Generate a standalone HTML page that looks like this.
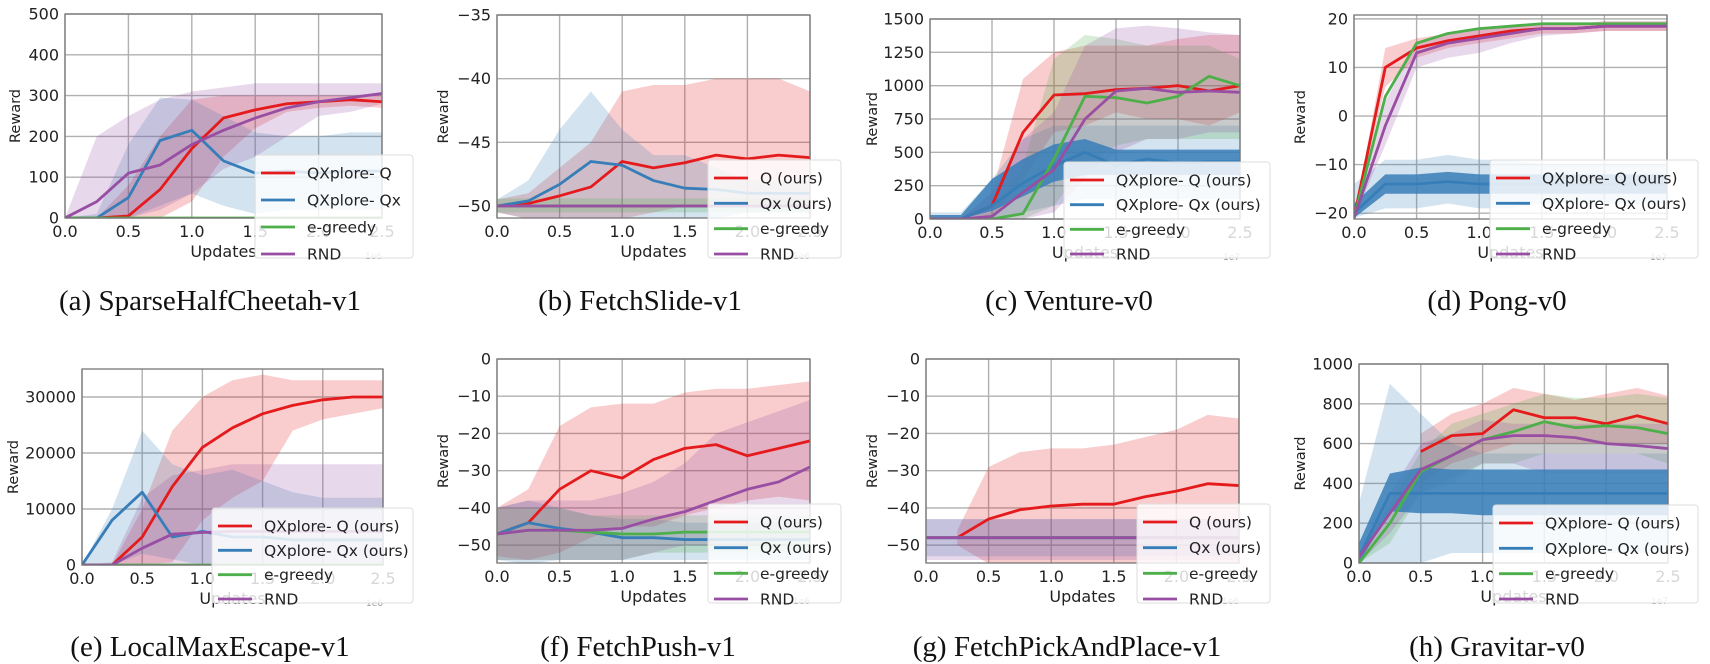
<!DOCTYPE html>
<html><head><meta charset="utf-8">
<style>
html,body{margin:0;padding:0;background:#fff;}
svg{display:block;font-family:"DejaVu Sans","Liberation Sans",sans-serif;}
.cap{font-family:"Liberation Serif",serif;font-size:29px;fill:#111;}
</style></head>
<body>
<svg id="fig" width="1710" height="664" viewBox="0 0 1710 664" xmlns="http://www.w3.org/2000/svg"></svg>
<script>
// ---------- data (x = updates, in units of 1e6 or 1e7) ----------
const xs = [0,0.25,0.5,0.75,1.0,1.25,1.5,1.75,2.0,2.25,2.5];
const seriesNames = ["Q","Qx","e-greedy","RND"];
// (a) SparseHalfCheetah
const aQ=[0,0,5,70,170,245,265,280,285,290,285];
const aQLo=[0,0,0,0,40,150,220,260,270,275,270];
const aQHi=[0,0,80,200,290,300,300,300,300,300,300];
const aQx=[0,0,50,190,215,140,110,115,110,115,115];
const aQxLo=[0,0,0,30,60,30,10,20,20,20,20];
const aQxHi=[0,10,180,295,290,250,210,200,200,210,210];
const aE=[0,0,0,0,0,0,0,0,0,0,0];
const aR=[0,40,110,130,180,215,245,270,285,295,305];
const aRLo=[0,0,0,20,60,120,150,200,250,260,280];
const aRHi=[0,200,250,290,310,320,330,330,330,330,330];
// (b) FetchSlide
const bQ=[-50,-49.8,-49.2,-48.5,-46.5,-47,-46.6,-46,-46.3,-46,-46.2];
const bQLo=[-50.5,-51,-51,-51,-51,-50.5,-50,-50,-50,-50,-50];
const bQHi=[-49.5,-49,-47,-45,-41,-40.5,-40.5,-40,-40,-40,-41];
const bQx=[-50,-49.6,-48.3,-46.5,-46.8,-48,-48.6,-48.7,-49,-49,-49];
const bQxLo=[-50.5,-51,-51,-51,-51,-51,-51,-51,-50.5,-50.5,-50.5];
const bQxHi=[-49.5,-48,-44,-41,-44,-46,-46,-47,-48,-48,-48];
const bE=[-50,-50,-50,-50,-50,-50,-50,-50,-50,-50,-50];
const bELo=[-50.5,-50.5,-50.5,-50.5,-50.5,-50.5,-50.5,-50.5,-50.5,-50.5,-50.5];
const bEHi=[-49.4,-49.4,-49.4,-49.4,-49.4,-49.4,-49.4,-49.4,-49.4,-49.4,-49.4];
const bR=[-50,-50,-50,-50,-50,-50,-50,-50,-50,-50,-50];
// (c) Venture
const cQ=[0,0,100,650,930,940,970,980,1000,960,1000];
const cQLo=[0,0,0,300,650,700,800,750,750,700,800];
const cQHi=[0,0,200,1050,1250,1300,1300,1300,1350,1380,1380];
const cQx=[0,0,100,270,400,500,400,450,420,430,430];
const cQxLo=[0,0,0,50,100,150,150,150,150,150,150];
const cQxHi=[50,50,300,600,700,700,700,700,700,700,700];
const cQxNoiseLo=[0,0,60,170,280,330,330,330,330,330,330];
const cQxNoiseHi=[30,30,300,450,560,600,520,520,520,520,520];
const cE=[0,0,0,40,450,920,910,870,920,1070,1000];
const cELo=[0,0,0,0,100,400,550,600,600,600,600];
const cEHi=[0,0,50,400,1200,1380,1350,1300,1300,1300,1200];
const cR=[0,0,20,200,370,750,960,980,950,960,950];
const cRLo=[0,0,0,0,50,300,500,600,600,650,650];
const cRHi=[0,0,200,600,800,1300,1430,1450,1430,1400,1380];
// (d) Pong
const dQ=[-21,10,14,15.5,16.5,17.5,18,18,18.5,18.5,18.5];
const dQLo=[-21,6,12,14,15,16,17,17,17.5,17.5,17.5];
const dQHi=[-21,14,16,17,18,18.5,19,19,19.5,19.5,19.5];
const dQx=[-20,-14,-14,-13.5,-14,-14,-14,-14,-14,-14,-14];
const dQxLo=[-21,-19,-19,-18,-19,-19,-18,-18,-18,-18,-18];
const dQxHi=[-14,-9,-9,-8,-9,-9,-10,-10,-10,-10,-10];
const dQxNoiseLo=[-21,-16,-16,-16,-16,-16,-16,-16,-16,-16,-16];
const dQxNoiseHi=[-18,-12,-12,-11.5,-12,-12,-12,-12,-12,-12,-12];
const dE=[-21,4,15,17,18,18.5,19,19,19,19,19];
const dR=[-21,-2,13,15,16,17,18,18,18.5,18.5,18.5];
const dRLo=[-21,-6,10,12,13,15,16.5,17,17.5,17.5,17.5];
const dRHi=[-21,3,15,17,18,18.5,19,19,19.5,19.5,19.5];
// (e) LocalMaxEscape
const eQ=[0,0,5000,14000,21000,24500,27000,28500,29500,30000,30000];
const eQLo=[0,0,0,500,8000,12000,15000,24000,26000,27000,28000];
const eQHi=[0,0,10000,24000,30000,33000,34000,33000,33000,33000,33000];
const eQx=[0,8000,13000,5000,6000,5000,5000,4500,4500,4500,4500];
const eQxLo=[0,0,2000,1000,0,0,0,0,0,0,0];
const eQxHi=[0,10000,24000,18000,16000,17000,15000,13000,12000,12000,12000];
const eE=[0,0,0,0,0,0,0,0,0,0,0];
const eR=[0,0,3000,5500,5800,6000,6000,6000,6000,6000,6000];
const eRLo=[0,0,0,0,0,0,0,0,0,0,0];
const eRHi=[0,500,12000,16000,17000,18000,18000,18000,18000,18000,18000];
// (f) FetchPush
const fQ=[-47,-44,-35,-30,-32,-27,-24,-23,-26,-24,-22];
const fQLo=[-53,-54,-52,-48,-45,-45,-42,-40,-38,-37,-38];
const fQHi=[-40,-35,-18,-13,-12,-12,-9,-8,-8,-7,-6];
const fQx=[-47,-44,-45.5,-46.5,-48,-48,-48.5,-48.5,-48.5,-48.5,-48.5];
const fQxLo=[-54,-55,-54,-54,-54,-54,-54,-54,-54,-54,-54];
const fQxHi=[-40,-38,-40,-42,-43,-43,-44,-44,-44,-44,-44];
const fE=[-47,-46,-46,-46.5,-47,-47,-46.5,-46.5,-46.5,-46.5,-46.5];
const fELo=[-54,-54,-54,-54,-54,-52,-52,-52,-52,-52,-52];
const fEHi=[-40,-40,-40,-42,-42,-42,-42,-42,-42,-42,-42];
const fR=[-47,-46,-46,-46,-45.5,-43,-41,-38,-35,-33,-29];
const fRLo=[-54,-54,-54,-54,-54,-52,-50,-50,-50,-49,-48];
const fRHi=[-40,-38,-38,-38,-36,-33,-28,-20,-17,-14,-11];
// (g) FetchPickAndPlace
const gQ=[null,-48,-43,-40.5,-39.5,-39,-39,-37,-35.5,-33.5,-34];
const gQLo=[null,-50,-55,-55,-55,-55,-55,-55,-55,-55,-55];
const gQHi=[null,-46,-29,-25,-24,-24,-23,-21,-19,-15,-16];
const gQx=[-48,-48,-48,-48,-48,-48,-48,-48,-48,-48,-48];
const gQxLo=[-53,-53,-53,-53,-53,-53,-53,-53,-53,-53,-53];
const gQxHi=[-43,-43,-43,-43,-43,-43,-43,-43,-43,-43,-43];
const gE=[-48,-48,-48,-48,-48,-48,-48,-48,-48,-48,-48];
const gR=[-48,-48,-48,-48,-48,-48,-48,-48,-48,-48,-48];
const gRLo=[-54,-54,-54,-54,-54,-54,-54,-54,-54,-54,-54];
const gRHi=[-43,-43,-43,-43,-43,-43,-43,-43,-43,-43,-43];
// (h) Gravitar
const hQ=[null,null,560,640,650,770,730,730,700,740,700];
const hQLo=[null,null,400,500,550,600,600,600,600,600,600];
const hQHi=[null,null,650,750,800,880,850,820,850,880,840];
const hQx=[30,350,350,350,350,350,350,350,350,350,350];
const hQxLo=[0,0,0,50,50,50,50,50,50,50,50];
const hQxHi=[300,900,750,600,550,550,550,550,550,550,550];
const hQxNoiseLo=[0,260,250,250,240,240,240,240,240,240,240];
const hQxNoiseHi=[100,450,480,470,470,470,470,470,470,470,470];
const hE=[0,200,460,540,620,660,710,680,690,680,650];
const hELo=[0,100,350,400,500,500,550,550,550,550,500];
const hEHi=[50,300,560,700,750,800,850,830,830,850,830];
const hR=[30,250,470,540,620,640,640,630,600,590,575];
const hRLo=[0,150,350,430,500,500,450,450,450,450,450];
const hRHi=[50,350,600,650,720,700,700,700,700,700,700];
const xTickLabels=["0.0","0.5","1.0","1.5","2.0","2.5"];
const xTickVals=[0,0.5,1,1.5,2,2.5];

// ---------- layout / rendering ----------
const COLORS=["#e41a1c","#377eb8","#4daf4a","#984ea3"];
const NS="http://www.w3.org/2000/svg";
const svg=document.getElementById('fig');
function mk(tag,attrs,parent){const e=document.createElementNS(NS,tag);for(const k in attrs)e.setAttribute(k,attrs[k]);(parent||svg).appendChild(e);return e;}

const panels=[
 {id:"a",L:65,R:382,T:14,B:218,ymin:0,ymax:500,yt:[0,100,200,300,400,500],rw:50,exp:"1e6",
  lines:[aQ,aQx,aE,aR],bands:[[aQLo,aQHi],[aQxLo,aQxHi],null,[aRLo,aRHi]],
  leg:[255,155,413,258],labels:["QXplore- Q","QXplore- Qx","e-greedy","RND"],cap:"(a)  SparseHalfCheetah-v1",cx:210,cy:310},
 {id:"b",L:497,R:810,T:15,B:218,ymin:-50.94,ymax:-35,yt:[-50,-45,-40,-35],rw:54,exp:"1e6",
  lines:[bQ,bQx,bE,bR],bands:[[bQLo,bQHi],[bQxLo,bQxHi],[bELo,bEHi],null],
  leg:[708,160,841,258],labels:["Q (ours)","Qx (ours)","e-greedy","RND"],cap:"(b)  FetchSlide-v1",cx:640,cy:310},
 {id:"c",L:930,R:1240,T:19,B:219,ymin:0,ymax:1500,yt:[0,250,500,750,1000,1250,1500],rw:58,exp:"1e7",
  lines:[cQ,cQx,cE,cR],bands:[[cQLo,cQHi],[cQxLo,cQxHi],[cELo,cEHi],[cRLo,cRHi]],noise:[cQxNoiseLo,cQxNoiseHi],
  leg:[1064,162,1270,258],labels:["QXplore- Q (ours)","QXplore- Qx (ours)","e-greedy","RND"],cap:"(c)  Venture-v0",cx:1069,cy:310},
 {id:"d",L:1354,R:1667,T:15,B:219,ymin:-21.2,ymax:20.8,yt:[-20,-10,0,10,20],rw:54,exp:"1e7",
  lines:[dQ,dQx,dE,dR],bands:[[dQLo,dQHi],[dQxLo,dQxHi],null,[dRLo,dRHi]],noise:[dQxNoiseLo,dQxNoiseHi],
  leg:[1490,160,1698,258],labels:["QXplore- Q (ours)","QXplore- Qx (ours)","e-greedy","RND"],cap:"(d)  Pong-v0",cx:1497,cy:310},
 {id:"e",L:82,R:383,T:369,B:565,ymin:0,ymax:35000,yt:[0,10000,20000,30000],rw:69,exp:"1e6",
  lines:[eQ,eQx,eE,eR],bands:[[eQLo,eQHi],[eQxLo,eQxHi],null,[eRLo,eRHi]],
  leg:[212,508,413,603],labels:["QXplore- Q (ours)","QXplore- Qx (ours)","e-greedy","RND"],cap:"(e)  LocalMaxEscape-v1",cx:210,cy:656},
 {id:"f",L:497,R:810,T:359,B:563,ymin:-54.8,ymax:0,yt:[-50,-40,-30,-20,-10,0],rw:54,exp:"1e6",
  lines:[fQ,fQx,fE,fR],bands:[[fQLo,fQHi],[fQxLo,fQxHi],[fELo,fEHi],[fRLo,fRHi]],
  leg:[708,504,841,603],labels:["Q (ours)","Qx (ours)","e-greedy","RND"],cap:"(f)  FetchPush-v1",cx:638,cy:656},
 {id:"g",L:926,R:1239,T:359,B:563,ymin:-54.8,ymax:0,yt:[-50,-40,-30,-20,-10,0],rw:54,exp:"1e6",
  lines:[gQ,gQx,gE,gR],bands:[[gQLo,gQHi],[gQxLo,gQxHi],null,[gRLo,gRHi]],
  leg:[1137,504,1270,603],labels:["Q (ours)","Qx (ours)","e-greedy","RND"],cap:"(g)  FetchPickAndPlace-v1",cx:1067,cy:656},
 {id:"h",L:1359,R:1668,T:364,B:563,ymin:0,ymax:1000,yt:[0,200,400,600,800,1000],rw:59,exp:"1e7",
  lines:[hQ,hQx,hE,hR],bands:[[hQLo,hQHi],[hQxLo,hQxHi],[hELo,hEHi],[hRLo,hRHi]],noise:[hQxNoiseLo,hQxNoiseHi],
  leg:[1493,505,1698,603],labels:["QXplore- Q (ours)","QXplore- Qx (ours)","e-greedy","RND"],cap:"(h)  Gravitar-v0",cx:1497,cy:656}
];

function fmt(v){return v<0?"\u2212"+Math.abs(v):String(v);}

panels.forEach(p=>{
  const g=mk('g',{});
  
  
  const X=v=>p.L+(v-0)/(2.5-0)*(p.R-p.L);
  const Y=v=>p.B-(v-p.ymin)/(p.ymax-p.ymin)*(p.B-p.T);
  const clipId='clip'+p.id;
  const cp=mk('clipPath',{id:clipId},g);
  mk('rect',{x:p.L,y:p.T,width:p.R-p.L,height:p.B-p.T},cp);
  xTickVals.forEach(v=>{const l=mk('line',{x1:X(v),x2:X(v),y1:p.T,y2:p.B,stroke:'#b0b0b0','stroke-width':1.4},g);
    });
  p.yt.forEach(v=>{const l=mk('line',{x1:p.L,x2:p.R,y1:Y(v),y2:Y(v),stroke:'#b0b0b0','stroke-width':1.4},g);
    });
  const plot=mk('g',{'clip-path':'url(#'+clipId+')'},g);
  p.bands.forEach((b,si)=>{
    if(!b)return;
    const idx=xs.map((_,i)=>i).filter(i=>b[0][i]!=null&&b[1][i]!=null);
    const pts=idx.map(i=>X(xs[i])+','+Y(b[1][i])).concat(idx.slice().reverse().map(i=>X(xs[i])+','+Y(b[0][i])));
    const pg=mk('polygon',{points:pts.join(' '),fill:COLORS[si],'fill-opacity':0.22},plot);
    
    
  });
  if(p.noise){
    const b=p.noise;
    const pts=xs.map((x,i)=>X(x)+','+Y(b[1][i])).concat(xs.map((x,i)=>X(x)+','+Y(b[0][i])).reverse());
    const pg=mk('polygon',{points:pts.join(' '),fill:COLORS[1],'fill-opacity':0.85},plot);
    
    
  }
  p.lines.forEach((arr,si)=>{
    const idx=xs.map((_,i)=>i).filter(i=>arr[i]!=null);
    const pl=mk('polyline',{points:idx.map(i=>X(xs[i])+','+Y(arr[i])).join(' '),fill:'none',stroke:COLORS[si],'stroke-width':2.8,'stroke-linejoin':'round'},plot);
    
    
  });
  const fr=mk('rect',{x:p.L,y:p.T,width:p.R-p.L,height:p.B-p.T,fill:'none',stroke:'#777','stroke-width':1.3},g);
  
  p.yt.forEach(v=>{const t=mk('text',{x:p.L-6,y:Y(v)+5.5,'text-anchor':'end','font-size':16,fill:'#222'},g);
    t.textContent=fmt(v);});
  xTickVals.forEach((v,i)=>{const t=mk('text',{x:X(v),y:p.B+19,'text-anchor':'middle','font-size':16,fill:'#222'},g);
    t.textContent=xTickLabels[i];});
  const xl=mk('text',{x:(p.L+p.R)/2,y:p.B+39,'text-anchor':'middle','font-size':16,fill:'#222'},g);
  xl.textContent='Updates';
  const ex=mk('text',{x:p.R,y:p.B+41,'text-anchor':'end','font-size':9,fill:'#999'},g);
  ex.textContent=p.exp;
  const yc=(p.T+p.B)/2,yx=p.L-p.rw+5;
  const yl=mk('text',{x:yx,y:yc,'text-anchor':'middle','font-size':14.5,fill:'#222',transform:'rotate(-90 '+yx+' '+yc+')'},g);
  yl.textContent='Reward';
  const [lx0,ly0,lx1,ly1]=p.leg;
  const lg=mk('g',{},g);
  
  mk('rect',{x:lx0,y:ly0,width:lx1-lx0,height:ly1-ly0,rx:3,fill:'#fff','fill-opacity':0.82,stroke:'#ddd','stroke-width':1},lg);
  const step=(ly1-ly0-22)/3;
  p.labels.forEach((lab,si)=>{
    const yy=ly0+18+si*step;
    const ll=mk('line',{x1:lx0+6,x2:lx0+40,y1:yy,y2:yy,stroke:COLORS[si],'stroke-width':2.8},lg);
    
    const t=mk('text',{x:lx0+52,y:yy+5.5,'font-size':15.5,fill:'#222'},lg);
    t.textContent=lab;
  });
  const c=mk('text',{x:p.cx,y:p.cy,'text-anchor':'middle',class:'cap'},g);
  c.textContent=p.cap;
});
</script>
</body></html>
